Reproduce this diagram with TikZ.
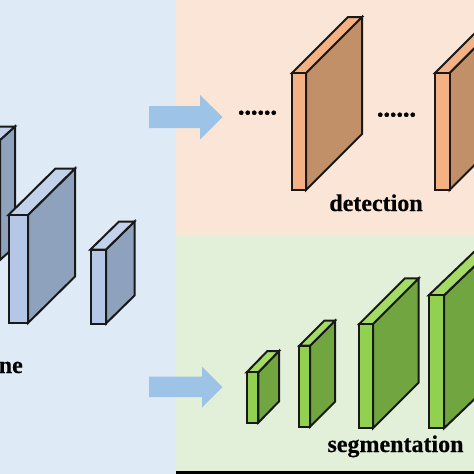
\documentclass[tikz,border=0pt]{standalone}
\usepackage{fontspec}
\setmainfont{Liberation Serif}
\definecolor{pblue}{HTML}{DEEBF7}
\definecolor{porange}{HTML}{FBE5D6}
\definecolor{pgreen}{HTML}{E2F0D9}
\definecolor{arrowblue}{HTML}{9DC3E6}
\definecolor{bfront}{HTML}{B4C7E7}
\definecolor{bside}{HTML}{8FA2BD}
\definecolor{btop}{HTML}{C2D2EA}
\definecolor{ofront}{HTML}{F4B183}
\definecolor{oside}{HTML}{C29068}
\definecolor{gfront}{HTML}{92D050}
\definecolor{gside}{HTML}{70A540}
\definecolor{gtop}{HTML}{A4DB66}
\tikzset{
  x=1pt,y=-1pt,
  slabline/.style={draw=black!90,line width=2pt,line join=miter},
  lbl/.style={font=\fontsize{24}{24}\selectfont\bfseries\addfontfeature{FakeBold=0.4},inner sep=0pt},
  dotslbl/.style={font=\fontsize{26}{26}\selectfont\bfseries\addfontfeature{FakeBold=1.5},inner sep=0pt},
  flow/.style={fill=arrowblue,draw=none}
}
% #1 front colour, #2 side colour, #3 top colour, #4 x0, #5 x1, #6 y0, #7 y1, #8 dx, #9 dy
\newcommand{\slabdraw}[9]{
  \path[slabline,fill=#2] (#5,#6) -- ++(#8,-#9) -- ++(0,#7-#6) -- (#5,#7) -- cycle;
  \path[slabline,fill=#3] (#4,#6) -- ++(#8,-#9) -- ++(#5-#4,0) -- (#5,#6) -- cycle;
  \path[slabline,fill=#1] (#4,#6) rectangle (#5,#7);
}
\begin{document}
\begin{tikzpicture}
\useasboundingbox (0,0) rectangle (474,474);
\clip (0,0) rectangle (474,474);
% panels
\fill[pblue] (0,0) rectangle (176,474);
\fill[porange] (176,0) rectangle (474,235);
\fill[pgreen] (176,235) rectangle (474,471);
\fill[black] (176,471) rectangle (474,474);
% blue slabs
\slabdraw{bfront}{bside}{btop}{-20}{0}{140}{260}{15}{13.5}
\slabdraw{bfront}{bside}{btop}{8.5}{28}{215}{323}{47}{46.5}
\slabdraw{bfront}{bside}{btop}{90.5}{106}{249.5}{323.5}{28.5}{28}
% arrows
\fill[flow] (149,106) -- (200,106) -- (200,95) -- (222.5,117) -- (200,139.5) -- (200,128) -- (149,128) -- cycle;
\fill[flow] (149,376.5) -- (202,376.5) -- (202,366.5) -- (222.5,387) -- (202,407.5) -- (202,397) -- (149,397) -- cycle;
% orange slabs
\slabdraw{ofront}{oside}{ofront}{292}{306}{73}{190}{56}{56}
\slabdraw{ofront}{oside}{ofront}{435}{449.5}{73}{190}{56}{56}
% green slabs
\slabdraw{gfront}{gside}{gtop}{246.7}{258.3}{372.3}{422.7}{20.7}{21.3}
\slabdraw{gfront}{gside}{gtop}{299.3}{310}{345.7}{426.7}{25}{25}
\slabdraw{gfront}{gside}{gtop}{359.3}{373}{324}{428.3}{45.7}{45.7}
\slabdraw{gfront}{gside}{gtop}{428.7}{444}{295.3}{428.3}{48}{46}
% labels
\node[dotslbl,anchor=base] (dotsa) at (257.5,114.5) {......};
\node[dotslbl,anchor=base] (dotsb) at (396.5,116.5) {......};
\node[lbl,anchor=base] (det) at (376,211) {detection};
\node[lbl,anchor=base] (seg) at (395.5,452) {segmentation};
\node[lbl,anchor=base east] (back) at (23,373) {ne};
\end{tikzpicture}
\end{document}
